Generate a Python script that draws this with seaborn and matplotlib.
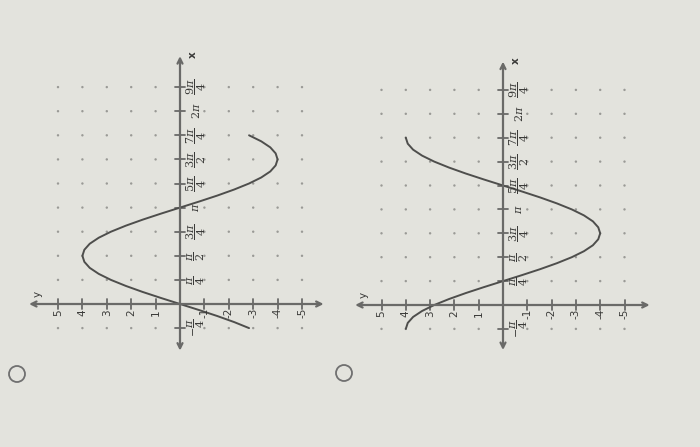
import numpy as np
import matplotlib
matplotlib.use("Agg")
import matplotlib.pyplot as plt
from matplotlib.patches import Ellipse
import seaborn as sns

# --- data ---
# x positions in units of pi/4 (steps of pi/16)
x_quarter_pi = [-1.0, -0.75, -0.5, -0.25, 0.0, 0.25, 0.5, 0.75, 1.0, 1.25, 1.5,
                1.75, 2.0, 2.25, 2.5, 2.75, 3.0, 3.25, 3.5, 3.75, 4.0, 4.25, 4.5,
                4.75, 5.0, 5.25, 5.5, 5.75, 6.0, 6.25, 6.5, 6.75, 7.0]
# left graph: crosses at 0 and pi, top 4 at pi/2, bottom -4 at 3pi/2
left_y = [-2.83, -2.22, -1.53, -0.78, 0.0, 0.78, 1.53, 2.22, 2.83, 3.33, 3.70,
          3.92, 4.0, 3.92, 3.70, 3.33, 2.83, 2.22, 1.53, 0.78, 0.0, -0.78, -1.53,
          -2.22, -2.83, -3.33, -3.70, -3.92, -4.0, -3.92, -3.70, -3.33, -2.83]
# right graph: crosses at pi/4 and 5pi/4, bottom -4 at 3pi/4
right_y = [4.0, 3.92, 3.70, 3.33, 2.83, 2.22, 1.53, 0.78, 0.0, -0.78, -1.53,
           -2.22, -2.83, -3.33, -3.70, -3.92, -4.0, -3.92, -3.70, -3.33, -2.83,
           -2.22, -1.53, -0.78, 0.0, 0.78, 1.53, 2.22, 2.83, 3.33, 3.70, 3.92, 4.0]

y_ticks = [5, 4, 3, 2, 1, -1, -2, -3, -4, -5]
y_tick_labels = ["5", "4", "3", "2", "1", "-1", "-2", "-3", "-4", "-5"]
x_ticks = [-1, 1, 2, 3, 4, 5, 6, 7, 8, 9]
x_tick_labels = [r"$-\dfrac{\pi}{4}$", r"$\dfrac{\pi}{4}$", r"$\dfrac{\pi}{2}$",
                 r"$\dfrac{3\pi}{4}$", r"$\pi$", r"$\dfrac{5\pi}{4}$",
                 r"$\dfrac{3\pi}{2}$", r"$\dfrac{7\pi}{4}$", r"$2\pi$",
                 r"$\dfrac{9\pi}{4}$"]

sns.set_theme(style="white")
plt.rcParams['mathtext.fontset'] = 'dejavuserif'

W, H = 700, 447
bg = "#e3e3dd"
fig = plt.figure(figsize=(7, 4.47), dpi=100, facecolor=bg)

axis_col = "#6a6a68"
curve_col = "#4e4e4c"
text_col = "#3a3a38"


def draw_graph(ox, oy, uy, ux, curve, h_ext, v_ext):
    # axes box in pixels around the origin
    half = 165
    ax = fig.add_axes([(ox - half) / W, 1 - (oy + 65) / H, 2 * half / W, 330 / H])
    ax.set_xlim(half / uy, -half / uy)
    ax.set_ylim(-65 / ux, 265 / ux)
    ax.axis("off")

    # grid dots
    gx, gy = np.meshgrid(y_ticks, x_ticks)
    sns.scatterplot(x=gx.ravel(), y=gy.ravel(), ax=ax, s=3, color="#9a9a96",
                    edgecolor="none", legend=False)

    # axes with arrows (math y horizontal, positive to the left; math x up)
    ax.annotate("", xy=(h_ext[0], 0), xytext=(h_ext[1], 0),
                arrowprops=dict(arrowstyle="<->", color=axis_col, lw=1.6,
                                mutation_scale=9))
    ax.annotate("", xy=(0, v_ext[1]), xytext=(0, v_ext[0]),
                arrowprops=dict(arrowstyle="<->", color=axis_col, lw=1.6,
                                mutation_scale=9))

    # tick marks
    for t in y_ticks:
        ax.plot([t, t], [-5 / ux, 5 / ux], color=axis_col, lw=1.3)
    for t in x_ticks:
        ax.plot([5 / uy, -5 / uy], [t, t], color=axis_col, lw=1.3)

    # tick labels
    for t, lab in zip(y_ticks, y_tick_labels):
        ax.annotate(lab, (t, 0), xytext=(0, -6.5), textcoords="offset points",
                    rotation=90, ha="center", va="center", fontsize=7.5,
                    color=text_col)
    for t, lab in zip(x_ticks, x_tick_labels):
        ax.annotate(lab, (0, t), xytext=(11.5, 0), textcoords="offset points",
                    rotation=90, ha="center", va="center", fontsize=8,
                    color=text_col)
    ax.annotate("x", (0, v_ext[1]), xytext=(9, -1), textcoords="offset points",
                rotation=90, ha="center", va="center", fontsize=7.5,
                color=text_col, fontweight="bold")
    ax.annotate("y", (h_ext[0], 0), xytext=(8, 7), textcoords="offset points",
                rotation=90, ha="center", va="center", fontsize=7.5,
                color=text_col)

    # the curve
    sns.lineplot(x=curve, y=x_quarter_pi, ax=ax, sort=False, estimator=None,
                 color=curve_col, lw=1.4)
    return ax


draw_graph(180, 304, 24.4, 24.1, left_y, (6.3, -6.0), (-2.05, 10.4))
draw_graph(503, 305, 24.3, 23.9, right_y, (6.2, -6.15), (-2.0, 10.3))

# radio buttons
for cx, cy in [(17, 374), (344, 373)]:
    fig.add_artist(Ellipse((cx / W, 1 - cy / H), 16 / W, 16 / H,
                           transform=fig.transFigure, fill=False,
                           edgecolor="#707070", lw=1.3))

fig.savefig("out.png", dpi=100, facecolor=bg)
